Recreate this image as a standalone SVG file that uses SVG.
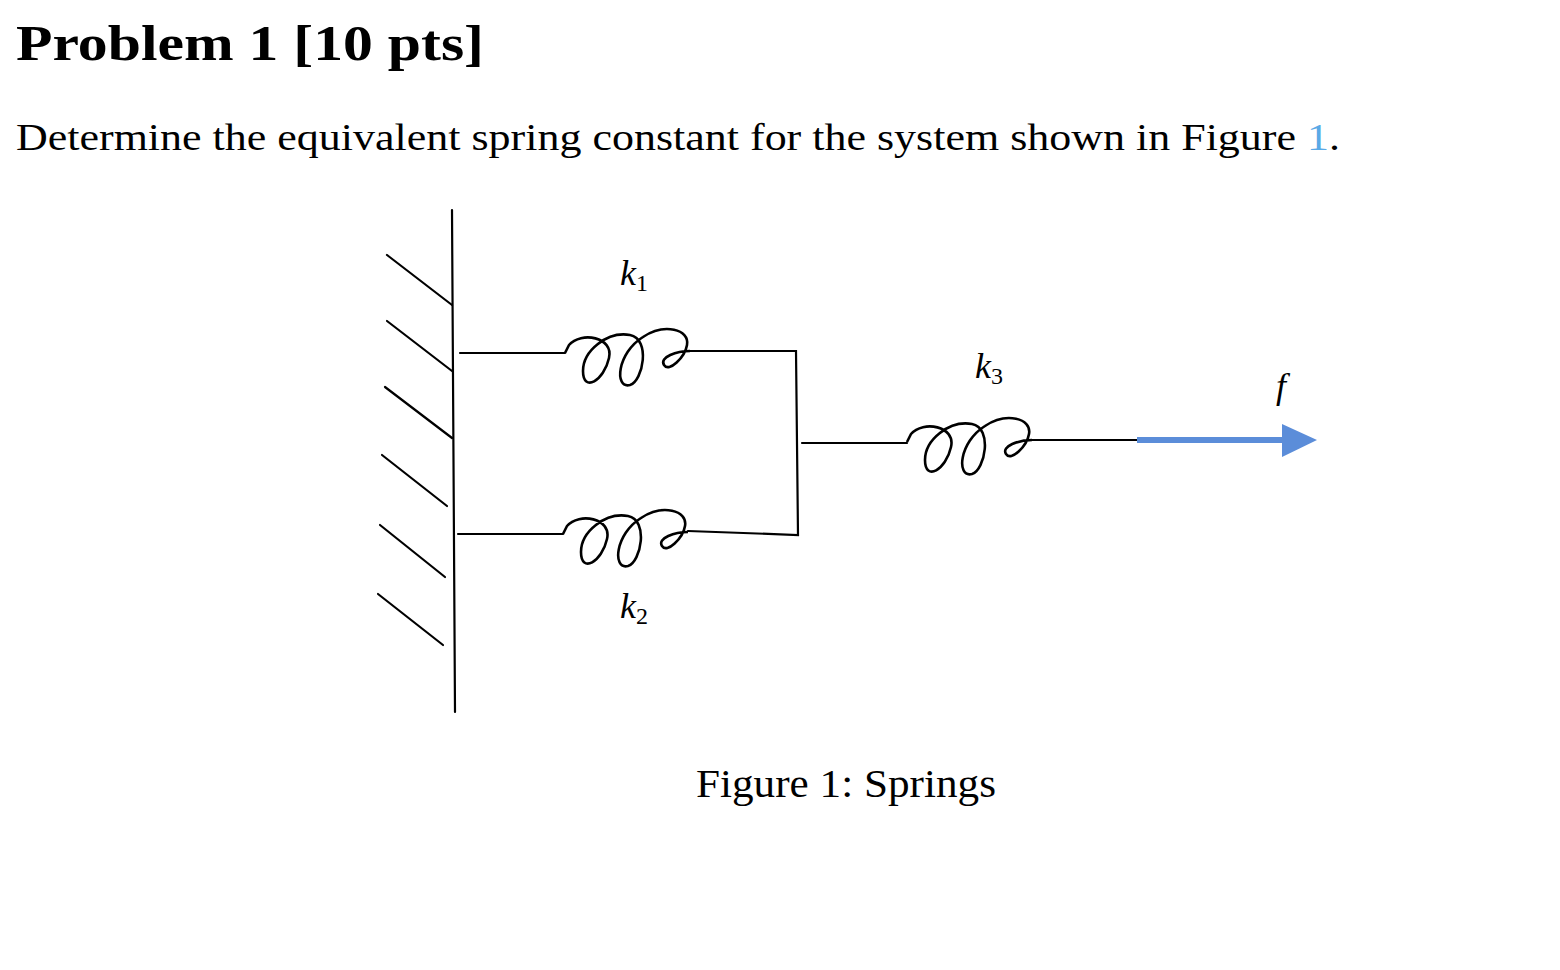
<svg xmlns="http://www.w3.org/2000/svg" width="1560" height="970" viewBox="0 0 1560 970">
<style>
.l{stroke:#000;stroke-width:2.2;fill:none;stroke-linecap:round}
.s{stroke:#000;stroke-width:2.6;fill:none;stroke-linejoin:round}
.m{font-family:"Liberation Serif",serif;font-style:italic;font-size:36px}
.sub{font-family:"Liberation Serif",serif;font-size:24px}
</style>
<defs>
<path id="spr" class="s" d="M0,0 L4,-8 C16,-22 49,-16 44,5 C39,28 18,40 18,18 C18,-2 42,-22 65,-18 C86,-14 78,28 65,32 C49,36 52,0 78,-16 C99,-30 125,-24 122,-8 C120,4 104,20 99,12 C94,4 112,-2 125,-2"/>
</defs>
<rect width="1560" height="970" fill="#fff"/>
<text x="16" y="60" font-family="Liberation Serif,serif" font-weight="bold" font-size="50" textLength="468" lengthAdjust="spacingAndGlyphs">Problem 1 [10 pts]</text>
<text x="16" y="150" font-family="Liberation Serif,serif" font-size="37" textLength="1324" lengthAdjust="spacingAndGlyphs">Determine the equivalent spring constant for the system shown in Figure <tspan fill="#5aa9e6">1</tspan>.</text>
<g id="wall">
<line class="l" x1="452" y1="210" x2="455" y2="712"/>
<line class="l" x1="387" y1="255" x2="452" y2="305"/>
<line class="l" x1="387" y1="321" x2="452" y2="371"/>
<line class="l" x1="385" y1="387" x2="452" y2="438"/>
<line class="l" x1="382" y1="455" x2="447" y2="506"/>
<line class="l" x1="380" y1="525" x2="445" y2="577"/>
<line class="l" x1="378" y1="594" x2="443" y2="645"/>
</g>
<g id="connectors">
<polyline class="l" points="460,353 565,353"/>
<polyline class="l" points="690,351 796,351 798,535 688,531"/>
<polyline class="l" points="458,534 563,534"/>
<polyline class="l" points="802,443 907,443"/>
<polyline class="l" points="1032,440 1137,440"/>
<line x1="1137" y1="440" x2="1285" y2="440" stroke="#5b8dd9" stroke-width="6"/>
<polygon points="1282,424 1317,440 1282,457" fill="#5b8dd9"/>
</g>
<g id="k1"><use href="#spr" x="565" y="353"/><text class="m" x="620" y="285">k<tspan class="sub" font-style="normal" dy="6">1</tspan></text></g>
<g id="k2"><use href="#spr" x="563" y="534"/><text class="m" x="620" y="618">k<tspan class="sub" font-style="normal" dy="6">2</tspan></text></g>
<g id="k3"><use href="#spr" x="907" y="442"/><text class="m" x="975" y="378">k<tspan class="sub" font-style="normal" dy="6">3</tspan></text></g>
<g id="f"><text class="m" x="1276" y="398">f</text></g>
<text x="696" y="797" font-family="Liberation Serif,serif" font-size="39" textLength="300" lengthAdjust="spacingAndGlyphs">Figure 1: Springs</text>
</svg>
